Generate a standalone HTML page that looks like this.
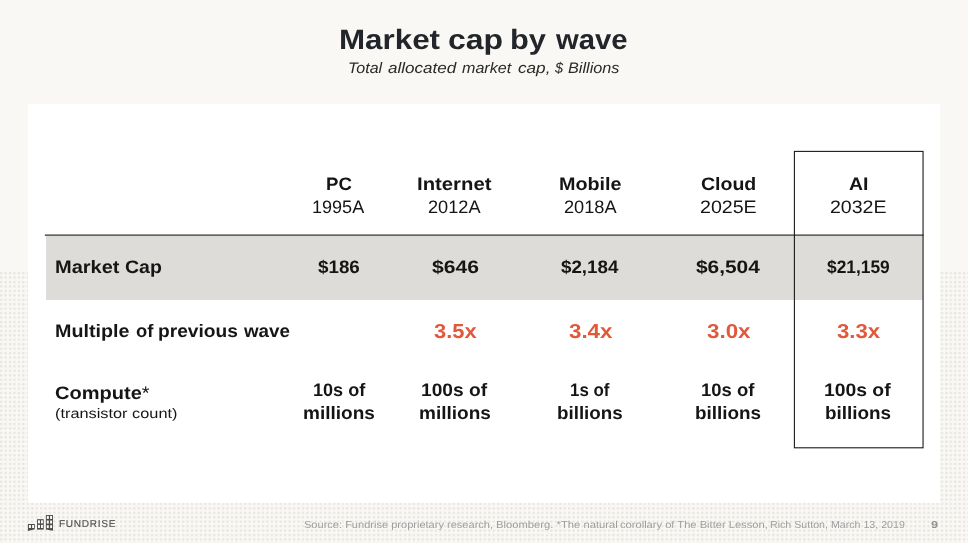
<!DOCTYPE html>
<html><head><meta charset="utf-8">
<style>
html,body{margin:0;padding:0;}
body{width:968px;height:543px;position:relative;overflow:hidden;background:#f9f8f4;font-family:"Liberation Sans",sans-serif;color:#1c1c1c;}
.dots{position:absolute;left:0;top:272px;width:968px;height:271px;
 background-image:radial-gradient(circle at 1.2px 1.2px,#e7e5e0 0.9px,rgba(231,229,224,0) 1.5px);
 background-size:4.45px 4.45px;}
.panel{position:absolute;left:27.5px;top:103.6px;width:912.4px;height:399.3px;background:#fff;}
.band{position:absolute;left:46px;top:236px;width:877px;height:64px;background:#dddcd8;}
.t{position:absolute;display:block;white-space:nowrap;line-height:1;transform-origin:0 0;}
</style></head><body>
<div class="dots"></div>
<div class="panel"></div>
<div class="band"></div>
<svg style="position:absolute;left:0;top:0" width="968" height="543" viewBox="0 0 968 543">
<line x1="44.8" y1="235.2" x2="923.5" y2="235.2" stroke="#2e2e2e" stroke-width="1.25"/>
<rect x="794.4" y="151.4" width="128.65" height="296.4" fill="none" stroke="#1a1a1a" stroke-width="1.1"/>
</svg>
<svg style="position:absolute;left:24px;top:511px" width="36" height="24" viewBox="24 511 36 24">
<g fill="#4b4b4b">
<polygon points="27.9,524.05 34.8,524.05 34.8,529.2 27.9,530.9"/>
<rect x="37.05" y="519.2" width="6.65" height="10.4"/>
<polygon points="45.9,515 53,515 53,530.7 45.9,529.4"/>
</g>
<g fill="#fbfaf7">
<rect x="28.9" y="525" width="2" height="3"/><rect x="32.1" y="525" width="1.9" height="3"/>
<rect x="37.95" y="520.3" width="2" height="3.1"/><rect x="41" y="520.3" width="1.9" height="3.1"/>
<rect x="37.95" y="524.9" width="2" height="3.1"/><rect x="41" y="524.9" width="1.9" height="3.1"/>
<rect x="46.8" y="515.9" width="2" height="3.1"/><rect x="50.1" y="515.9" width="2" height="3.1"/>
<rect x="46.8" y="520.5" width="2" height="3.1"/><rect x="50.1" y="520.5" width="2" height="3.1"/>
<rect x="46.8" y="525.2" width="2" height="2.9"/><rect x="50.1" y="525.2" width="2" height="2.9"/>
</g></svg>

<div><span class="t" style="left:339.24px;top:26.25px;font-size:28.0px;color:#22252a;transform:scaleX(1.1196) rotate(0.03deg);font-weight:bold;">Market</span> <span class="t" style="left:448.09px;top:26.27px;font-size:28.0px;color:#22252a;transform:scaleX(1.1402) rotate(0.03deg);font-weight:bold;">cap</span> <span class="t" style="left:509.60px;top:26.28px;font-size:28.0px;color:#22252a;transform:scaleX(1.0993) rotate(0.03deg);font-weight:bold;">by</span> <span class="t" style="left:556.07px;top:26.26px;font-size:28.0px;color:#22252a;transform:scaleX(1.0437) rotate(0.03deg);font-weight:bold;">wave</span></div>
<div><span class="t" style="left:347.92px;top:60.28px;font-size:15.2px;color:#2a2a2a;transform:scaleX(1.0560) rotate(0.03deg);font-style:italic;">Total</span> <span class="t" style="left:387.66px;top:60.27px;font-size:15.2px;color:#2a2a2a;transform:scaleX(1.1230) rotate(0.03deg);font-style:italic;">allocated</span> <span class="t" style="left:462.12px;top:60.28px;font-size:15.2px;color:#2a2a2a;transform:scaleX(1.0599) rotate(0.03deg);font-style:italic;">market</span> <span class="t" style="left:518.39px;top:60.28px;font-size:15.2px;color:#2a2a2a;transform:scaleX(1.1303) rotate(0.03deg);font-style:italic;">cap,</span> <span class="t" style="left:554.64px;top:60.30px;font-size:15.2px;color:#2a2a2a;transform:scaleX(0.9497) rotate(0.03deg);font-style:italic;">$</span> <span class="t" style="left:568.35px;top:60.27px;font-size:15.2px;color:#2a2a2a;transform:scaleX(1.0688) rotate(0.03deg);font-style:italic;">Billions</span></div>
<div><span class="t" style="left:325.77px;top:174.54px;font-size:18.0px;color:#151515;transform:scaleX(1.0323) rotate(0.03deg);font-weight:bold;">PC</span></div>
<div><span class="t" style="left:312.27px;top:197.52px;font-size:18.0px;color:#151515;transform:scaleX(1.0030) rotate(0.03deg);">1995A</span></div>
<div><span class="t" style="left:416.67px;top:174.52px;font-size:18.0px;color:#151515;transform:scaleX(1.1287) rotate(0.03deg);font-weight:bold;">Internet</span></div>
<div><span class="t" style="left:427.99px;top:197.52px;font-size:18.0px;color:#151515;transform:scaleX(1.0098) rotate(0.03deg);">2012A</span></div>
<div><span class="t" style="left:558.58px;top:174.52px;font-size:18.0px;color:#151515;transform:scaleX(1.0968) rotate(0.03deg);font-weight:bold;">Mobile</span></div>
<div><span class="t" style="left:563.54px;top:197.52px;font-size:18.0px;color:#151515;transform:scaleX(1.0108) rotate(0.03deg);">2018A</span></div>
<div><span class="t" style="left:701.12px;top:174.52px;font-size:18.0px;color:#151515;transform:scaleX(1.0847) rotate(0.03deg);font-weight:bold;">Cloud</span></div>
<div><span class="t" style="left:699.92px;top:197.52px;font-size:18.0px;color:#151515;transform:scaleX(1.0896) rotate(0.03deg);">2025E</span></div>
<div><span class="t" style="left:849.45px;top:174.54px;font-size:18.0px;color:#151515;transform:scaleX(1.0769) rotate(0.03deg);font-weight:bold;">AI</span></div>
<div><span class="t" style="left:830.46px;top:197.52px;font-size:18.0px;color:#151515;transform:scaleX(1.0866) rotate(0.03deg);">2032E</span></div>
<div><span class="t" style="left:55.10px;top:258.42px;font-size:18.0px;color:#151515;transform:scaleX(1.1115) rotate(0.03deg);font-weight:bold;">Market</span> <span class="t" style="left:125.31px;top:258.43px;font-size:18.0px;color:#151515;transform:scaleX(1.0831) rotate(0.03deg);font-weight:bold;">Cap</span></div>
<div><span class="t" style="left:318.32px;top:258.33px;font-size:18.0px;color:#151515;transform:scaleX(1.0433) rotate(0.03deg);font-weight:bold;">$186</span></div>
<div><span class="t" style="left:431.62px;top:258.33px;font-size:18.0px;color:#151515;transform:scaleX(1.1707) rotate(0.03deg);font-weight:bold;">$646</span></div>
<div><span class="t" style="left:561.15px;top:258.32px;font-size:18.0px;color:#151515;transform:scaleX(1.0420) rotate(0.03deg);font-weight:bold;">$2,184</span></div>
<div><span class="t" style="left:696.35px;top:258.32px;font-size:18.0px;color:#151515;transform:scaleX(1.1598) rotate(0.03deg);font-weight:bold;">$6,504</span></div>
<div><span class="t" style="left:827.12px;top:258.32px;font-size:18.0px;color:#151515;transform:scaleX(0.9650) rotate(0.03deg);font-weight:bold;">$21,159</span></div>
<div><span class="t" style="left:54.64px;top:321.86px;font-size:18.0px;color:#151515;transform:scaleX(1.0943) rotate(0.03deg);font-weight:bold;">Multiple</span> <span class="t" style="left:135.99px;top:321.89px;font-size:18.0px;color:#151515;transform:scaleX(1.0199) rotate(0.03deg);font-weight:bold;">of</span> <span class="t" style="left:158.22px;top:321.86px;font-size:18.0px;color:#151515;transform:scaleX(1.0651) rotate(0.03deg);font-weight:bold;">previous</span> <span class="t" style="left:243.98px;top:321.88px;font-size:18.0px;color:#151515;transform:scaleX(1.0426) rotate(0.03deg);font-weight:bold;">wave</span></div>
<div><span class="t" style="left:433.58px;top:321.18px;font-size:20.2px;color:#e2583a;transform:scaleX(1.0845) rotate(0.03deg);font-weight:bold;">3.5x</span></div>
<div><span class="t" style="left:568.80px;top:321.18px;font-size:20.2px;color:#e2583a;transform:scaleX(1.1065) rotate(0.03deg);font-weight:bold;">3.4x</span></div>
<div><span class="t" style="left:707.39px;top:321.18px;font-size:20.2px;color:#e2583a;transform:scaleX(1.1078) rotate(0.03deg);font-weight:bold;">3.0x</span></div>
<div><span class="t" style="left:837.40px;top:321.18px;font-size:20.2px;color:#e2583a;transform:scaleX(1.0974) rotate(0.03deg);font-weight:bold;">3.3x</span></div>
<div><span class="t" style="left:55.23px;top:383.96px;font-size:18.0px;color:#151515;transform:scaleX(1.1131) rotate(0.03deg);font-weight:bold;">Compute<span style="font-weight:normal">*</span></span></div>
<div><span class="t" style="left:55.03px;top:406.75px;font-size:13.8px;color:#151515;transform:scaleX(1.1829) rotate(0.03deg);">(transistor count)</span></div>
<div><span class="t" style="left:312.64px;top:380.67px;font-size:18.0px;color:#151515;transform:scaleX(1.0030) rotate(0.03deg);font-weight:bold;">10s of</span> <span class="t" style="left:303.45px;top:403.76px;font-size:18.0px;color:#151515;transform:scaleX(1.0561) rotate(0.03deg);font-weight:bold;">millions</span></div>
<div><span class="t" style="left:421.00px;top:380.67px;font-size:18.0px;color:#151515;transform:scaleX(1.0648) rotate(0.03deg);font-weight:bold;">100s of</span> <span class="t" style="left:418.74px;top:403.76px;font-size:18.0px;color:#151515;transform:scaleX(1.0561) rotate(0.03deg);font-weight:bold;">millions</span></div>
<div><span class="t" style="left:570.02px;top:380.68px;font-size:18.0px;color:#151515;transform:scaleX(0.9378) rotate(0.03deg);font-weight:bold;">1s of</span> <span class="t" style="left:557.33px;top:403.77px;font-size:18.0px;color:#151515;transform:scaleX(1.0426) rotate(0.03deg);font-weight:bold;">billions</span></div>
<div><span class="t" style="left:700.93px;top:380.67px;font-size:18.0px;color:#151515;transform:scaleX(1.0255) rotate(0.03deg);font-weight:bold;">10s of</span> <span class="t" style="left:695.37px;top:403.77px;font-size:18.0px;color:#151515;transform:scaleX(1.0492) rotate(0.03deg);font-weight:bold;">billions</span></div>
<div><span class="t" style="left:824.25px;top:380.67px;font-size:18.0px;color:#151515;transform:scaleX(1.0738) rotate(0.03deg);font-weight:bold;">100s of</span> <span class="t" style="left:825.12px;top:403.77px;font-size:18.0px;color:#151515;transform:scaleX(1.0492) rotate(0.03deg);font-weight:bold;">billions</span></div>
<div><span class="t" style="left:58.72px;top:518.87px;font-size:10.0px;color:#505050;letter-spacing:0.7px;-webkit-text-stroke:0.15px #505050;transform:scaleX(1.0082) rotate(0.03deg);">FUNDRISE</span></div>
<div><span class="t" style="left:304.42px;top:520.01px;font-size:10.2px;color:#9e9e9e;transform:scaleX(1.0841) rotate(0.03deg);">Source: Fundrise proprietary research,</span> <span class="t" style="left:496.17px;top:520.04px;font-size:10.2px;color:#9e9e9e;transform:scaleX(1.1032) rotate(0.03deg);">Bloomberg. *The natural</span> <span class="t" style="left:620.38px;top:520.03px;font-size:10.2px;color:#9e9e9e;transform:scaleX(1.0931) rotate(0.03deg);">corollary of The Bitter Lesson,</span> <span class="t" style="left:770.12px;top:520.03px;font-size:10.2px;color:#9e9e9e;transform:scaleX(1.0443) rotate(0.03deg);">Rich Sutton, March 13, 2019</span></div>
<div><span class="t" style="left:931.40px;top:520.20px;font-size:10.0px;color:#8f8f8f;transform:scaleX(1.2645) rotate(0.03deg);font-weight:bold;">9</span></div>
</body></html>
